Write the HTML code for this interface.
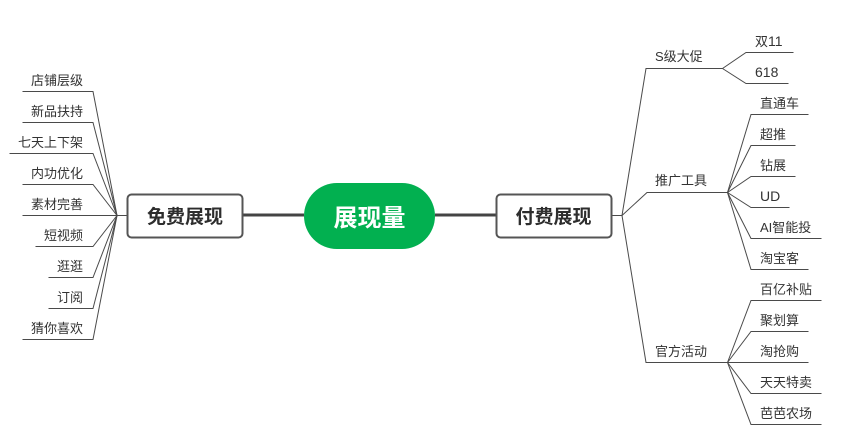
<!DOCTYPE html>
<html lang="zh">
<head>
<meta charset="utf-8">
<style>
html,body{margin:0;padding:0;background:#fff}
body{width:844px;height:448px;overflow:hidden}
svg{display:block}
text{font-family:"Liberation Sans","Noto Sans CJK SC",sans-serif;font-size:13px;fill:#333}
.b{font-size:19px;font-weight:700;fill:#2d2d2d;text-anchor:middle}
.r{text-anchor:end}
.l{font-size:14px}
</style>
</head>
<body>
<svg width="844" height="448" viewBox="0 0 844 448" xmlns="http://www.w3.org/2000/svg">
<g fill="none" stroke="#4a4a4a" stroke-width="1">
<path d="M117 215.5L93 91.5H22.5"/>
<path d="M117 215.5L93 122.5H22.5"/>
<path d="M117 215.5L93 153.5H9.5"/>
<path d="M117 215.5L93 184.5H22.5"/>
<path d="M127 215.5H22.5"/>
<path d="M117 215.5L93 246.5H35.5"/>
<path d="M117 215.5L93 277.5H48.5"/>
<path d="M117 215.5L93 308.5H48.5"/>
<path d="M117 215.5L93 339.5H22.5"/>
<path d="M612 215.5H622"/>
<path d="M622 215.5L646 68.5H722.5"/>
<path d="M622 215.5L647 192.5H727.5"/>
<path d="M622 215.5L646 362.5H727.5"/>
<path d="M722.5 68.5L746 52.5H793.5"/>
<path d="M722.5 68.5L746 83.5H788.5"/>
<path d="M727.5 192.5L751 114.5H808.5"/>
<path d="M727.5 192.5L751 145.5H795.5"/>
<path d="M727.5 192.5L751 176.5H795.5"/>
<path d="M727.5 192.5L751 207.5H789.5"/>
<path d="M727.5 192.5L751 238.5H821.5"/>
<path d="M727.5 192.5L751 269.5H808.5"/>
<path d="M727.5 362.5L751 300.5H821.5"/>
<path d="M727.5 362.5L751 331.5H808.5"/>
<path d="M727.5 362.5H808.5"/>
<path d="M727.5 362.5L751 393.5H821.5"/>
<path d="M727.5 362.5L751 424.5H821.5"/>
</g>
<path d="M243 215H304M435 215H496" stroke="#444" stroke-width="3" fill="none"/>
<rect x="304" y="183" width="131" height="66" rx="33" fill="#02b050"/>
<rect x="127.500" y="194.500" width="115" height="43" rx="4" fill="#fff" stroke="#555" stroke-width="2"/>
<rect x="496.500" y="194.500" width="115" height="43" rx="4" fill="#fff" stroke="#555" stroke-width="2"/>
<text x="369.500" y="226" style="font-size:24px;font-weight:700;fill:#fff;text-anchor:middle">展现量</text>
<text class="b" x="185" y="223">免费展现</text>
<text class="b" x="553.500" y="223">付费展现</text>
<g class="r">
<text class="r" x="83" y="85">店铺层级</text>
<text class="r" x="83" y="116">新品扶持</text>
<text class="r" x="83" y="147">七天上下架</text>
<text class="r" x="83" y="178">内功优化</text>
<text class="r" x="83" y="209">素材完善</text>
<text class="r" x="83" y="240">短视频</text>
<text class="r" x="83" y="271">逛逛</text>
<text class="r" x="83" y="302">订阅</text>
<text class="r" x="83" y="333">猜你喜欢</text>
</g>
<text x="655" y="61">S级大促</text>
<text x="655" y="185">推广工具</text>
<text x="655" y="356">官方活动</text>
<text x="755" y="46">双<tspan class="l">11</tspan></text>
<text class="l" x="755" y="77">618</text>
<text x="760" y="108">直通车</text>
<text x="760" y="139">超推</text>
<text x="760" y="170">钻展</text>
<text class="l" x="760" y="201">UD</text>
<text x="760" y="232">AI智能投</text>
<text x="760" y="263">淘宝客</text>
<text x="760" y="294">百亿补贴</text>
<text x="760" y="325">聚划算</text>
<text x="760" y="356">淘抢购</text>
<text x="760" y="387">天天特卖</text>
<text x="760" y="418">芭芭农场</text>
</svg>
</body>
</html>
